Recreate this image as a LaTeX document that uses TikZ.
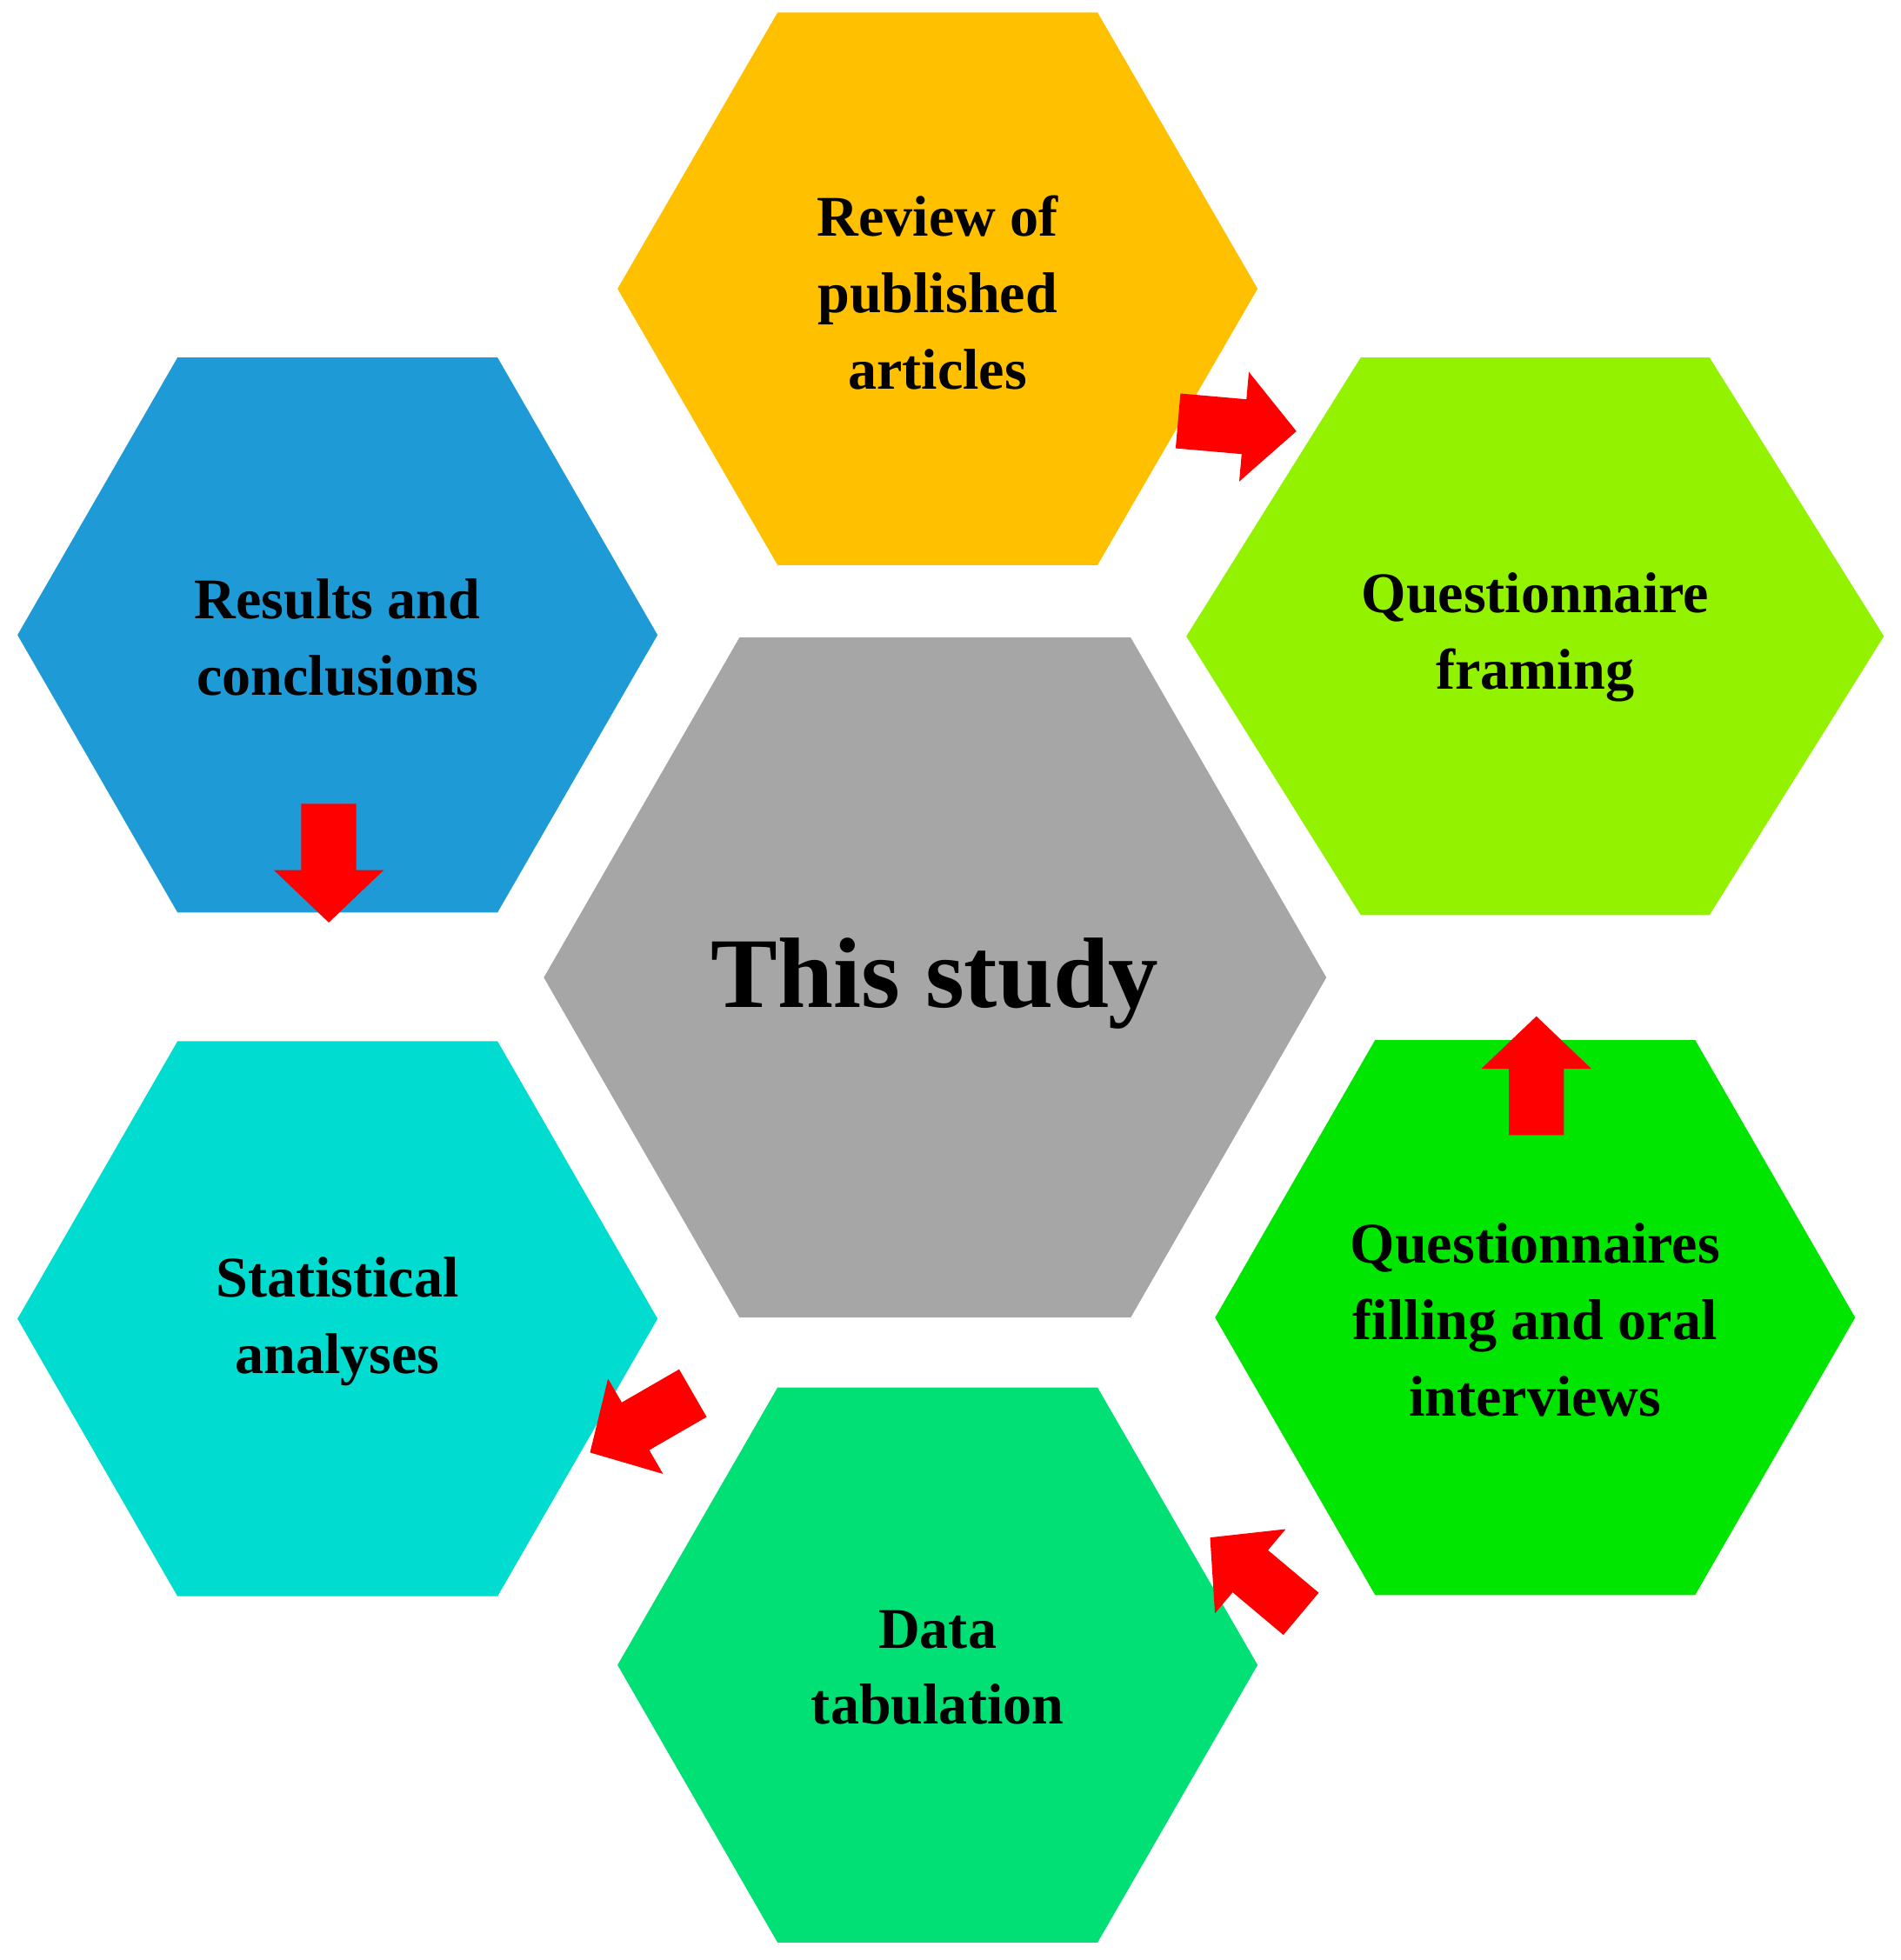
\documentclass[tikz,border=0pt]{standalone}
\usepackage{fontspec}
\setmainfont{Liberation Serif}
\definecolor{corange}{HTML}{FFC000}
\definecolor{cgreenA}{HTML}{92F200}
\definecolor{cgreenB}{HTML}{00E600}
\definecolor{cgreenC}{HTML}{00E075}
\definecolor{ccyan}{HTML}{00DDD0}
\definecolor{cblue}{HTML}{1E9AD6}
\definecolor{cgray}{HTML}{A6A6A6}
\begin{document}
\begin{tikzpicture}[x=1pt,y=-1pt,
  lbl/.style={font=\fontsize{46}{61}\selectfont\bfseries,align=center,text=black},
  redarrow/.style={fill=red,draw=none}]
\useasboundingbox (0,0) rectangle (1520,1568);
\newcommand{\hexa}[5]{% cx cy hw hh color
  \fill[#5] ({#1-#3},#2) -- ({#1-#3/2},{#2-#4}) -- ({#1+#3/2},{#2-#4}) -- ({#1+#3},#2) -- ({#1+#3/2},{#2+#4}) -- ({#1-#3/2},{#2+#4}) -- cycle;}
\newcommand{\barrow}[3]{% x y angle ; arrow pointing along +x of rotated frame, tip at origin
  \fill[redarrow,shift={(#1,#2)},rotate=#3] (0,0) -- (-42,-44) -- (-42,-22) -- (-95,-22) -- (-95,22) -- (-42,22) -- (-42,44) -- cycle;}
\hexa{750}{231}{256}{221}{corange}
\hexa{1228}{509}{279}{223}{cgreenA}
\hexa{1228}{1054}{256}{222}{cgreenB}
\hexa{750}{1332}{256}{222}{cgreenC}
\hexa{270}{1055}{256}{222}{ccyan}
\hexa{270}{508}{256}{222}{cblue}
\hexa{748}{782}{313}{272}{cgray}
\node[lbl] (review) at (750,234) {Review of\\published\\articles};
\node[lbl] (qframe) at (1228,510) {Questionnaire\\framing};
\node[lbl] (qfill) at (1228,1056) {Questionnaires\\filling and oral\\interviews};
\node[lbl] (tab) at (750,1334) {Data\\tabulation};
\node[lbl] (stat) at (270,1057) {Statistical\\analyses};
\node[lbl] (res) at (270,510) {Results and\\conclusions};
\node[font=\fontsize{80}{90}\selectfont\bfseries] (study) at (748,787) {This study};
\barrow{1037}{345}{-5}
\barrow{1229}{813}{90}
\barrow{968}{1230}{140}
\barrow{472}{1162}{210}
\barrow{263}{738}{-90}
\end{tikzpicture}
\end{document}
